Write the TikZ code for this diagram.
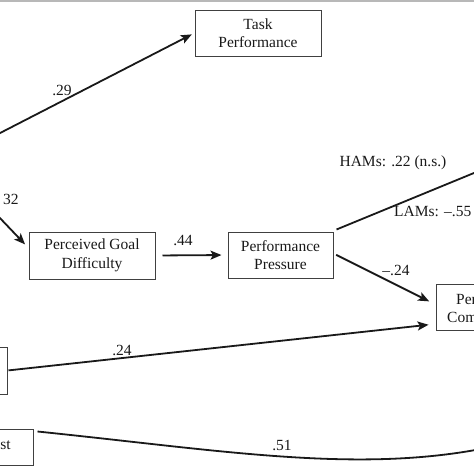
\documentclass[tikz,border=0pt]{standalone}
\usepackage{fontspec}
\setmainfont{Liberation Serif}
\usetikzlibrary{arrows.meta,calc}
\begin{document}
\begin{tikzpicture}[x=1pt,y=-1pt,
  box/.style={draw=black!75, line width=1pt, inner sep=0pt, align=center,
    font=\fontsize{15.5}{18.5}\selectfont, text=black!90},
  lbl/.style={inner sep=0pt, font=\fontsize{15.5}{18.5}\selectfont, text=black!90},
  arr/.style={line width=1.8pt, draw=black!90, -{Stealth[length=11pt,width=9pt,inset=2.5pt]}},
  ln/.style={line width=1.8pt, draw=black!90}]
\useasboundingbox (0,0) rectangle (474,474);
\begin{scope}
\clip (0,0) rectangle (474,474);
\fill[black!28] (0,0) rectangle (474,2);
% boxes
\node[box, minimum width=126pt, minimum height=46pt] (tp) at (258,33) {Task\\Performance};
\node[box, minimum width=126pt, minimum height=47pt] (pgd) at (92,255.5) {Perceived Goal\\Difficulty};
\node[box, minimum width=105pt, minimum height=46pt] (pp) at (280.5,255) {Performance\\Pressure};
\node[box, minimum width=124pt, minimum height=46pt] (pc) at (498,307) {};
\node[box, minimum width=67pt, minimum height=47pt] (lb) at (-26.5,370.5) {};
\node[box, minimum width=113pt, minimum height=36pt] (sb) at (-23.5,447) {};
% cropped texts
\node[lbl, anchor=west] (pctop) at (456,299) {Per};
\node[lbl, anchor=west] (pcbot) at (447,317) {Com};
\node[lbl, anchor=east] (sbt) at (11,445) {st};
% free ends
\coordinate (s29) at (-10,138.2);
\coordinate (s32) at (-8,209.7);
\coordinate (eH) at (490,166.4);
\coordinate (s51) at (520,440);
% connectors
\draw[arr, shorten >=3pt] (s29) -- (tp.west);
\draw[arr, shorten >=5pt] (s32) -- ($(pgd.west)+(0,-7.5)$);
\draw[arr, shorten <=7pt, shorten >=6pt] (pgd.east) -- (pp.west);
\draw[ln] ($(pp.north east)+(3,-2)$) -- (eH);
\draw[arr, shorten <=3pt, shorten >=7pt] ($(pp.east)+(0,-1.5)$) -- ($(pc.west)+(0,-2.5)$);
\draw[arr, shorten <=1pt, shorten >=7pt] (lb.east) -- ($(pc.west)+(0,17)$);
\draw[ln] ($(sb.north east)+(4,3)$) .. controls (237,452) and (380,478) .. (s51);
% labels
\node[lbl] (l29) at (62,90) {.29};
\node[lbl, anchor=west] (l32) at (3,199) {32};
\node[lbl] (l44) at (183,241) {.44};
\node[lbl] (lH) at (393,163) {HAMs: .22 (n.s.)};
\node[lbl, anchor=west] (lL) at (394,211) {LAMs: --.55};
\node[lbl] (l24n) at (396,270) {--.24};
\node[lbl] (l24) at (122,350) {.24};
\node[lbl] (l51) at (282,445) {.51};
\end{scope}
\end{tikzpicture}
\end{document}
